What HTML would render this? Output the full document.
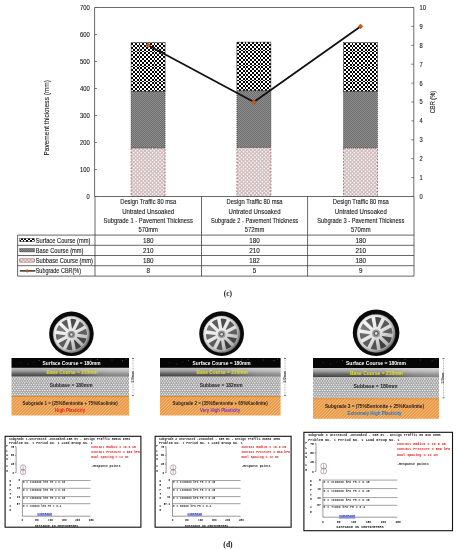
<!DOCTYPE html>
<html><head><meta charset="utf-8"><title>Pavement thickness figure</title>
<style>html,body{margin:0;padding:0;background:#fff}body{width:456px;height:550px;overflow:hidden}svg{display:block}.s{font-family:"Liberation Sans",sans-serif;fill:#222;stroke:#222;stroke-width:0.12}.m{font-family:"Liberation Mono",monospace;font-weight:bold;fill:#222}.c{font-family:"Liberation Serif",serif;font-weight:bold;fill:#111}</style></head><body>
<svg width="456" height="550" viewBox="0 0 456 550">
<defs>
<pattern id="chk" width="15" height="15" patternUnits="userSpaceOnUse"><rect width="15" height="15" fill="#000"/><path d="M2 0H4V2H2zM6 0H8V2H6zM9 0H11V2H9zM13 0H15V2H13zM0 2H2V4H0zM4 2H6V4H4zM8 2H9V4H8zM11 2H13V4H11zM2 4H4V6H2zM6 4H8V6H6zM9 4H11V6H9zM13 4H15V6H13zM0 6H2V8H0zM4 6H6V8H4zM8 6H9V8H8zM11 6H13V8H11zM2 8H4V9H2zM6 8H8V9H6zM9 8H11V9H9zM13 8H15V9H13zM0 9H2V11H0zM4 9H6V11H4zM8 9H9V11H8zM11 9H13V11H11zM2 11H4V13H2zM6 11H8V13H6zM9 11H11V13H9zM13 11H15V13H13zM0 13H2V15H0zM4 13H6V15H4zM8 13H9V15H8zM11 13H13V15H11z" fill="#fff"/></pattern>
<pattern id="bas" width="2" height="2" patternUnits="userSpaceOnUse"><rect width="2" height="2" fill="#6e6e6e"/><rect x="0" y="0" width="1" height="1" fill="#8e8e8e"/><rect x="1" y="1" width="1" height="1" fill="#8e8e8e"/></pattern>
<pattern id="sub" width="15" height="15" patternUnits="userSpaceOnUse"><rect width="15" height="15" fill="#d0bcbc"/><g fill="#fbf7f7"><circle cx="2.812" cy="0.938" r="0.84"/><circle cx="6.562" cy="0.938" r="0.84"/><circle cx="10.312" cy="0.938" r="0.84"/><circle cx="14.062" cy="0.938" r="0.84"/><circle cx="0.938" cy="2.812" r="0.84"/><circle cx="4.688" cy="2.812" r="0.84"/><circle cx="8.438" cy="2.812" r="0.84"/><circle cx="12.188" cy="2.812" r="0.84"/><circle cx="2.812" cy="4.688" r="0.84"/><circle cx="6.562" cy="4.688" r="0.84"/><circle cx="10.312" cy="4.688" r="0.84"/><circle cx="14.062" cy="4.688" r="0.84"/><circle cx="0.938" cy="6.562" r="0.84"/><circle cx="4.688" cy="6.562" r="0.84"/><circle cx="8.438" cy="6.562" r="0.84"/><circle cx="12.188" cy="6.562" r="0.84"/><circle cx="2.812" cy="8.438" r="0.84"/><circle cx="6.562" cy="8.438" r="0.84"/><circle cx="10.312" cy="8.438" r="0.84"/><circle cx="14.062" cy="8.438" r="0.84"/><circle cx="0.938" cy="10.312" r="0.84"/><circle cx="4.688" cy="10.312" r="0.84"/><circle cx="8.438" cy="10.312" r="0.84"/><circle cx="12.188" cy="10.312" r="0.84"/><circle cx="2.812" cy="12.188" r="0.84"/><circle cx="6.562" cy="12.188" r="0.84"/><circle cx="10.312" cy="12.188" r="0.84"/><circle cx="14.062" cy="12.188" r="0.84"/><circle cx="0.938" cy="14.062" r="0.84"/><circle cx="4.688" cy="14.062" r="0.84"/><circle cx="8.438" cy="14.062" r="0.84"/><circle cx="12.188" cy="14.062" r="0.84"/></g></pattern>
<linearGradient id="gbase" x1="0" y1="0" x2="0" y2="1"><stop offset="0" stop-color="#c2c2c2"/><stop offset="0.35" stop-color="#9a9a9a"/><stop offset="0.7" stop-color="#5c5c5c"/><stop offset="1" stop-color="#3e3e3e"/></linearGradient>
<linearGradient id="gbase2" x1="0" y1="0" x2="1" y2="0"><stop offset="0" stop-color="#fff" stop-opacity="0"/><stop offset="0.55" stop-color="#fff" stop-opacity="0.05"/><stop offset="0.8" stop-color="#fff" stop-opacity="0.3"/><stop offset="1" stop-color="#fff" stop-opacity="0.35"/></linearGradient>
<pattern id="dots" width="5" height="19" patternUnits="userSpaceOnUse"><rect width="5" height="19" fill="#a2a2a2"/><g fill="#f4f4f4"><circle cx="1.250" cy="0.950" r="0.7"/><circle cx="3.750" cy="0.950" r="0.7"/><circle cx="2.500" cy="2.850" r="0.7"/><circle cx="5.000" cy="2.850" r="0.7"/><circle cx="1.250" cy="4.750" r="0.7"/><circle cx="3.750" cy="4.750" r="0.7"/><circle cx="2.500" cy="6.650" r="0.7"/><circle cx="5.000" cy="6.650" r="0.7"/><circle cx="1.250" cy="8.550" r="0.7"/><circle cx="3.750" cy="8.550" r="0.7"/><circle cx="2.500" cy="10.450" r="0.7"/><circle cx="5.000" cy="10.450" r="0.7"/><circle cx="1.250" cy="12.350" r="0.7"/><circle cx="3.750" cy="12.350" r="0.7"/><circle cx="2.500" cy="14.250" r="0.7"/><circle cx="5.000" cy="14.250" r="0.7"/><circle cx="1.250" cy="16.150" r="0.7"/><circle cx="3.750" cy="16.150" r="0.7"/><circle cx="2.500" cy="18.050" r="0.7"/><circle cx="5.000" cy="18.050" r="0.7"/><circle cx="0" cy="2.850" r="0.7"/><circle cx="5" cy="2.850" r="0.7"/><circle cx="0" cy="6.650" r="0.7"/><circle cx="5" cy="6.650" r="0.7"/><circle cx="0" cy="10.450" r="0.7"/><circle cx="5" cy="10.450" r="0.7"/><circle cx="0" cy="14.250" r="0.7"/><circle cx="5" cy="14.250" r="0.7"/><circle cx="0" cy="18.050" r="0.7"/><circle cx="5" cy="18.050" r="0.7"/></g></pattern>
<pattern id="hat" width="2.2" height="2.2" patternUnits="userSpaceOnUse" patternTransform="rotate(-45)"><rect width="2.2" height="2.2" fill="#e8923a"/><rect width="2.2" height="0.95" fill="#f3bf84"/></pattern>
<linearGradient id="spk" x1="0.15" y1="0.1" x2="0.85" y2="0.9"><stop offset="0" stop-color="#fafafa"/><stop offset="0.55" stop-color="#e2e2e2"/><stop offset="1" stop-color="#a8a8a8"/></linearGradient>
<linearGradient id="rim" x1="0.1" y1="0.1" x2="0.9" y2="0.9"><stop offset="0" stop-color="#f0f0f0"/><stop offset="0.5" stop-color="#c8c8c8"/><stop offset="1" stop-color="#6e6e6e"/></linearGradient>
</defs>
<rect width="456" height="550" fill="#fff"/>
<g transform="translate(131 43)">
<rect x="0.1" y="104.9" width="34" height="48.6" fill="url(#sub)" stroke="#7a2626" stroke-width="0.6" stroke-dasharray="1.6 1.6"/>
<rect x="0.1" y="48.2" width="34" height="56.7" fill="url(#bas)" stroke="#2a2a2a" stroke-width="0.7" stroke-dasharray="1 1"/>
<rect x="0.1" y="-0.4" width="34" height="48.6" fill="url(#chk)" stroke="#222" stroke-width="0.5"/>
</g>
<g transform="translate(237 42)">
<rect x="-0.1" y="105.4" width="34" height="49.1" fill="url(#sub)" stroke="#7a2626" stroke-width="0.6" stroke-dasharray="1.6 1.6"/>
<rect x="-0.1" y="48.7" width="34" height="56.7" fill="url(#bas)" stroke="#2a2a2a" stroke-width="0.7" stroke-dasharray="1 1"/>
<rect x="-0.1" y="0.1" width="34" height="48.6" fill="url(#chk)" stroke="#222" stroke-width="0.5"/>
</g>
<g transform="translate(344 43)">
<rect x="-0.5" y="104.9" width="34" height="48.6" fill="url(#sub)" stroke="#7a2626" stroke-width="0.6" stroke-dasharray="1.6 1.6"/>
<rect x="-0.5" y="48.2" width="34" height="56.7" fill="url(#bas)" stroke="#2a2a2a" stroke-width="0.7" stroke-dasharray="1 1"/>
<rect x="-0.5" y="-0.4" width="34" height="48.6" fill="url(#chk)" stroke="#222" stroke-width="0.5"/>
</g>
<path d="M94.6 7.5H413.8V196.5H94.6Z" fill="none" stroke="#595959" stroke-width="0.9"/>
<path d="M94.6 196.5h2.4" stroke="#595959" stroke-width="0.8"/>
<text x="89.8" y="198.9" class="s" font-size="6.6" text-anchor="end" textLength="3.2" lengthAdjust="spacingAndGlyphs">0</text>
<path d="M94.6 169.5h2.4" stroke="#595959" stroke-width="0.8"/>
<text x="89.8" y="171.9" class="s" font-size="6.6" text-anchor="end" textLength="9.8" lengthAdjust="spacingAndGlyphs">100</text>
<path d="M94.6 142.5h2.4" stroke="#595959" stroke-width="0.8"/>
<text x="89.8" y="144.9" class="s" font-size="6.6" text-anchor="end" textLength="9.8" lengthAdjust="spacingAndGlyphs">200</text>
<path d="M94.6 115.5h2.4" stroke="#595959" stroke-width="0.8"/>
<text x="89.8" y="117.9" class="s" font-size="6.6" text-anchor="end" textLength="9.8" lengthAdjust="spacingAndGlyphs">300</text>
<path d="M94.6 88.5h2.4" stroke="#595959" stroke-width="0.8"/>
<text x="89.8" y="90.9" class="s" font-size="6.6" text-anchor="end" textLength="9.8" lengthAdjust="spacingAndGlyphs">400</text>
<path d="M94.6 61.5h2.4" stroke="#595959" stroke-width="0.8"/>
<text x="89.8" y="63.9" class="s" font-size="6.6" text-anchor="end" textLength="9.8" lengthAdjust="spacingAndGlyphs">500</text>
<path d="M94.6 34.5h2.4" stroke="#595959" stroke-width="0.8"/>
<text x="89.8" y="36.9" class="s" font-size="6.6" text-anchor="end" textLength="9.8" lengthAdjust="spacingAndGlyphs">600</text>
<path d="M94.6 7.5h2.4" stroke="#595959" stroke-width="0.8"/>
<text x="89.8" y="9.9" class="s" font-size="6.6" text-anchor="end" textLength="9.8" lengthAdjust="spacingAndGlyphs">700</text>
<path d="M413.8 196.5h-2.4" stroke="#595959" stroke-width="0.8"/>
<text x="419.4" y="198.9" class="s" font-size="6.6" text-anchor="start" textLength="3.2" lengthAdjust="spacingAndGlyphs">0</text>
<path d="M413.8 177.6h-2.4" stroke="#595959" stroke-width="0.8"/>
<text x="419.4" y="180.0" class="s" font-size="6.6" text-anchor="start" textLength="3.2" lengthAdjust="spacingAndGlyphs">1</text>
<path d="M413.8 158.7h-2.4" stroke="#595959" stroke-width="0.8"/>
<text x="419.4" y="161.1" class="s" font-size="6.6" text-anchor="start" textLength="3.2" lengthAdjust="spacingAndGlyphs">2</text>
<path d="M413.8 139.8h-2.4" stroke="#595959" stroke-width="0.8"/>
<text x="419.4" y="142.2" class="s" font-size="6.6" text-anchor="start" textLength="3.2" lengthAdjust="spacingAndGlyphs">3</text>
<path d="M413.8 120.9h-2.4" stroke="#595959" stroke-width="0.8"/>
<text x="419.4" y="123.3" class="s" font-size="6.6" text-anchor="start" textLength="3.2" lengthAdjust="spacingAndGlyphs">4</text>
<path d="M413.8 102.0h-2.4" stroke="#595959" stroke-width="0.8"/>
<text x="419.4" y="104.4" class="s" font-size="6.6" text-anchor="start" textLength="3.2" lengthAdjust="spacingAndGlyphs">5</text>
<path d="M413.8 83.1h-2.4" stroke="#595959" stroke-width="0.8"/>
<text x="419.4" y="85.5" class="s" font-size="6.6" text-anchor="start" textLength="3.2" lengthAdjust="spacingAndGlyphs">6</text>
<path d="M413.8 64.2h-2.4" stroke="#595959" stroke-width="0.8"/>
<text x="419.4" y="66.6" class="s" font-size="6.6" text-anchor="start" textLength="3.2" lengthAdjust="spacingAndGlyphs">7</text>
<path d="M413.8 45.3h-2.4" stroke="#595959" stroke-width="0.8"/>
<text x="419.4" y="47.7" class="s" font-size="6.6" text-anchor="start" textLength="3.2" lengthAdjust="spacingAndGlyphs">8</text>
<path d="M413.8 26.4h-2.4" stroke="#595959" stroke-width="0.8"/>
<text x="419.4" y="28.8" class="s" font-size="6.6" text-anchor="start" textLength="3.2" lengthAdjust="spacingAndGlyphs">9</text>
<path d="M413.8 7.5h-2.4" stroke="#595959" stroke-width="0.8"/>
<text x="419.4" y="9.9" class="s" font-size="6.6" text-anchor="start" textLength="6.5" lengthAdjust="spacingAndGlyphs">10</text>
<text class="s" font-size="7" text-anchor="middle" textLength="75.5" lengthAdjust="spacingAndGlyphs" transform="translate(49.1 117.8) rotate(-90)">Pavement thickness (mm)</text>
<text class="s" font-size="7" text-anchor="middle" textLength="22.5" lengthAdjust="spacingAndGlyphs" transform="translate(435.1 102) rotate(-90)">CBR (%)</text>
<polyline fill="none" stroke="#111" stroke-width="1.8" points="148.1,45.3 253.9,102.0 360.5,26.4"/>
<path d="M148.1 42.8l2.5 2.5l-2.5 2.5l-2.5-2.5z" fill="#c55a11" stroke="#a04000" stroke-width="0.3"/>
<path d="M253.9 99.5l2.5 2.5l-2.5 2.5l-2.5-2.5z" fill="#c55a11" stroke="#a04000" stroke-width="0.3"/>
<path d="M360.5 23.9l2.5 2.5l-2.5 2.5l-2.5-2.5z" fill="#c55a11" stroke="#a04000" stroke-width="0.3"/>
<path d="M95 196.5V276.1" stroke="#404040" stroke-width="0.8"/>
<path d="M201.5 196.5V276.1" stroke="#404040" stroke-width="0.8"/>
<path d="M307.6 196.5V276.1" stroke="#404040" stroke-width="0.8"/>
<path d="M414 196.5V276.1" stroke="#404040" stroke-width="0.8"/>
<path d="M17.6 235.1V276.1" stroke="#404040" stroke-width="0.8"/>
<path d="M17.6 235.1H414" stroke="#404040" stroke-width="0.8"/>
<path d="M17.6 245.3H414" stroke="#404040" stroke-width="0.8"/>
<path d="M17.6 255.5H414" stroke="#404040" stroke-width="0.8"/>
<path d="M17.6 265.7H414" stroke="#404040" stroke-width="0.8"/>
<path d="M17.6 276.1H414" stroke="#404040" stroke-width="0.8"/>
<text x="148.2" y="204.4" class="s" font-size="7" text-anchor="middle" textLength="56.0" lengthAdjust="spacingAndGlyphs">Design Traffic 80 msa</text>
<text x="148.2" y="213.9" class="s" font-size="7" text-anchor="middle" textLength="52.0" lengthAdjust="spacingAndGlyphs">Untrated Unsoaked</text>
<text x="148.2" y="223.4" class="s" font-size="7" text-anchor="middle" textLength="89.4" lengthAdjust="spacingAndGlyphs">Subgrade  1 - Pavement Thickness</text>
<text x="148.2" y="231.8" class="s" font-size="7" text-anchor="middle" textLength="19.5" lengthAdjust="spacingAndGlyphs">570mm</text>
<text x="254.6" y="204.4" class="s" font-size="7" text-anchor="middle" textLength="56.0" lengthAdjust="spacingAndGlyphs">Design Traffic 80 msa</text>
<text x="254.6" y="213.9" class="s" font-size="7" text-anchor="middle" textLength="52.0" lengthAdjust="spacingAndGlyphs">Untrated Unsoaked</text>
<text x="254.6" y="223.4" class="s" font-size="7" text-anchor="middle" textLength="87.0" lengthAdjust="spacingAndGlyphs">Subgrade 2 - Pavement Thickness</text>
<text x="254.6" y="231.8" class="s" font-size="7" text-anchor="middle" textLength="19.5" lengthAdjust="spacingAndGlyphs">572mm</text>
<text x="360.8" y="204.4" class="s" font-size="7" text-anchor="middle" textLength="56.0" lengthAdjust="spacingAndGlyphs">Design Traffic 80 msa</text>
<text x="360.8" y="213.9" class="s" font-size="7" text-anchor="middle" textLength="52.0" lengthAdjust="spacingAndGlyphs">Untrated Unsoaked</text>
<text x="360.8" y="223.4" class="s" font-size="7" text-anchor="middle" textLength="87.0" lengthAdjust="spacingAndGlyphs">Subgrade 3 - Pavement Thickness</text>
<text x="360.8" y="231.8" class="s" font-size="7" text-anchor="middle" textLength="19.5" lengthAdjust="spacingAndGlyphs">570mm</text>
<text x="148.2" y="242.6" class="s" font-size="6.8" text-anchor="middle" textLength="10.5" lengthAdjust="spacingAndGlyphs">180</text>
<text x="254.6" y="242.6" class="s" font-size="6.8" text-anchor="middle" textLength="10.5" lengthAdjust="spacingAndGlyphs">180</text>
<text x="360.8" y="242.6" class="s" font-size="6.8" text-anchor="middle" textLength="10.5" lengthAdjust="spacingAndGlyphs">180</text>
<text x="148.2" y="252.8" class="s" font-size="6.8" text-anchor="middle" textLength="10.5" lengthAdjust="spacingAndGlyphs">210</text>
<text x="254.6" y="252.8" class="s" font-size="6.8" text-anchor="middle" textLength="10.5" lengthAdjust="spacingAndGlyphs">210</text>
<text x="360.8" y="252.8" class="s" font-size="6.8" text-anchor="middle" textLength="10.5" lengthAdjust="spacingAndGlyphs">210</text>
<text x="148.2" y="263.0" class="s" font-size="6.8" text-anchor="middle" textLength="10.5" lengthAdjust="spacingAndGlyphs">180</text>
<text x="254.6" y="263.0" class="s" font-size="6.8" text-anchor="middle" textLength="10.5" lengthAdjust="spacingAndGlyphs">182</text>
<text x="360.8" y="263.0" class="s" font-size="6.8" text-anchor="middle" textLength="10.5" lengthAdjust="spacingAndGlyphs">180</text>
<text x="148.2" y="273.3" class="s" font-size="6.8" text-anchor="middle" textLength="3.5" lengthAdjust="spacingAndGlyphs">8</text>
<text x="254.6" y="273.3" class="s" font-size="6.8" text-anchor="middle" textLength="3.5" lengthAdjust="spacingAndGlyphs">5</text>
<text x="360.8" y="273.3" class="s" font-size="6.8" text-anchor="middle" textLength="3.5" lengthAdjust="spacingAndGlyphs">9</text>
<rect x="19.8" y="238.5" width="14.6" height="3.2" fill="url(#chk)" stroke="#222" stroke-width="0.5"/>
<text x="35.7" y="242.6" class="s" font-size="7" text-anchor="start" textLength="54.7" lengthAdjust="spacingAndGlyphs">Surface Course (mm)</text>
<rect x="19.8" y="248.7" width="14.6" height="3.2" fill="url(#bas)" stroke="#333" stroke-width="0.5"/>
<text x="35.7" y="252.8" class="s" font-size="7" text-anchor="start" textLength="47.7" lengthAdjust="spacingAndGlyphs">Base Course (mm)</text>
<rect x="19.8" y="258.9" width="14.6" height="3.2" fill="url(#sub)" stroke="#8c2f2f" stroke-width="0.5"/>
<text x="35.7" y="263.0" class="s" font-size="7" text-anchor="start" textLength="57.2" lengthAdjust="spacingAndGlyphs">Subbase Course (mm)</text>
<path d="M19.8 270.9H35.4" stroke="#111" stroke-width="1.3"/>
<path d="M27.2 269.0l1.9 1.9l-1.9 1.9l-1.9-1.9z" fill="#c55a11"/>
<text x="35.7" y="273.3" class="s" font-size="7" text-anchor="start" textLength="45.3" lengthAdjust="spacingAndGlyphs">Subgrade CBR(%)</text>
<text x="227.9" y="296.4" class="c" font-size="7.4" text-anchor="middle">(c)</text>
<text x="228.0" y="547.3" class="c" font-size="7.6" text-anchor="middle">(d)</text>
<circle cx="71.4" cy="333.8" r="22.3" fill="#0b0a0a"/>
<circle cx="71.4" cy="334.5" r="18.77" fill="#3a3634"/>
<circle cx="71.4" cy="334.5" r="18.17" fill="url(#rim)"/>
<circle cx="71.4" cy="334.5" r="16.36" fill="url(#spk)"/>
<path d="M71.94 328.34L70.45 318.90A15.63 15.63 0 0 1 76.62 319.77L72.58 328.43Z" fill="#4c4c4c"/>
<path d="M75.45 329.84L79.80 321.32A15.63 15.63 0 0 1 84.28 325.65L75.92 330.29Z" fill="#5a5a5a"/>
<path d="M77.42 333.11L85.94 328.77A15.63 15.63 0 0 1 87.02 334.91L77.53 333.75Z" fill="#606060"/>
<path d="M77.09 336.91L86.53 338.41A15.63 15.63 0 0 1 83.80 344.01L76.80 337.50Z" fill="#484848"/>
<path d="M74.58 339.80L81.34 346.56A15.63 15.63 0 0 1 75.84 349.49L74.01 340.10Z" fill="#3e3e3e"/>
<path d="M70.86 340.66L72.35 350.10A15.63 15.63 0 0 1 66.18 349.23L70.22 340.57Z" fill="#505050"/>
<path d="M67.35 339.16L63.00 347.68A15.63 15.63 0 0 1 58.52 343.35L66.88 338.71Z" fill="#5c5c5c"/>
<path d="M65.38 335.89L56.86 340.23A15.63 15.63 0 0 1 55.78 334.09L65.27 335.25Z" fill="#6a6a6a"/>
<path d="M65.71 332.09L56.27 330.59A15.63 15.63 0 0 1 59.00 324.99L66.00 331.50Z" fill="#767676"/>
<path d="M68.22 329.20L61.46 322.44A15.63 15.63 0 0 1 66.96 319.51L68.79 328.90Z" fill="#5c5c5c"/>
<circle cx="71.4" cy="334.5" r="3.82" fill="#9a9a9a"/>
<circle cx="71.4" cy="334.5" r="2.36" fill="#555"/>
<circle cx="71.4" cy="334.5" r="1.27" fill="#e0e0e0"/>
<rect x="11.5" y="358" width="117.5" height="9.9" fill="#060606"/>
<rect x="11.5" y="367.9" width="117.5" height="8.8" fill="url(#gbase)"/>
<rect x="11.5" y="367.9" width="117.5" height="8.8" fill="url(#gbase2)"/>
<rect x="11.5" y="376.7" width="117.5" height="19.3" fill="url(#dots)"/>
<rect x="11.5" y="396" width="117.5" height="19.5" fill="url(#hat)"/>
<rect x="11.5" y="396" width="117.5" height="0.9" fill="#d8801e" opacity="0.8"/>
<circle cx="39.1" cy="360.5" r="0.45" fill="#ddd" opacity="0.75"/>
<circle cx="90.8" cy="360.0" r="0.4" fill="#ddd" opacity="0.75"/>
<circle cx="97.3" cy="359.4" r="0.45" fill="#ddd" opacity="0.75"/>
<circle cx="112.0" cy="360.0" r="0.4" fill="#ddd" opacity="0.75"/>
<circle cx="122.5" cy="360.8" r="0.45" fill="#ddd" opacity="0.75"/>
<circle cx="126.1" cy="359.0" r="0.4" fill="#ddd" opacity="0.75"/>
<circle cx="20.9" cy="362.5" r="0.3" fill="#ddd" opacity="0.75"/>
<circle cx="28.0" cy="363.9" r="0.3" fill="#ddd" opacity="0.75"/>
<circle cx="33.8" cy="362.0" r="0.3" fill="#ddd" opacity="0.75"/>
<text x="71.6" y="364.8" font-family="Liberation Sans,sans-serif" font-weight="bold" font-size="5.6" fill="#fff" text-anchor="middle" textLength="58" lengthAdjust="spacingAndGlyphs">Surface Course = 180mm</text>
<text x="72.1" y="374.2" font-family="Liberation Sans,sans-serif" font-weight="bold" font-size="5.6" fill="#e8e020" text-anchor="middle" textLength="51.2" lengthAdjust="spacingAndGlyphs">Base Course = 210mm</text>
<text x="71.1" y="386.7" font-family="Liberation Sans,sans-serif" font-weight="bold" font-size="5.4" fill="#222" text-anchor="middle" textLength="42.8" lengthAdjust="spacingAndGlyphs">Subbase = 180mm</text>
<text x="70.1" y="405.2" font-family="Liberation Sans,sans-serif" font-weight="bold" font-size="5" fill="#2a2018" text-anchor="middle" textLength="95.2" lengthAdjust="spacingAndGlyphs">Subgrade 1 = (25%Bentonite + 75%Kaolinite)</text>
<text x="70.1" y="411.8" font-family="Liberation Sans,sans-serif" font-weight="bold" font-size="4.8" fill="#e8201a" text-anchor="middle" textLength="30" lengthAdjust="spacingAndGlyphs">High Plasticity</text>
<path d="M133 358.5V395.5" stroke="#555" stroke-width="0.5" stroke-dasharray="0.8 0.8"/>
<path d="M132 358.5h2M132 395.5h2" stroke="#333" stroke-width="0.6"/>
<text font-family="Liberation Sans,sans-serif" font-weight="bold" font-size="3.2" fill="#333" text-anchor="middle" transform="translate(133.9 377.0) rotate(-90)">570mm</text>
<circle cx="221.6" cy="333.6" r="22.4" fill="#0b0a0a"/>
<circle cx="221.6" cy="334.3" r="18.86" fill="#3a3634"/>
<circle cx="221.6" cy="334.3" r="18.26" fill="url(#rim)"/>
<circle cx="221.6" cy="334.3" r="16.43" fill="url(#spk)"/>
<path d="M222.14 328.12L220.64 318.63A15.70 15.70 0 0 1 226.84 319.50L222.78 328.21Z" fill="#4c4c4c"/>
<path d="M225.67 329.62L230.04 321.06A15.70 15.70 0 0 1 234.54 325.41L226.14 330.07Z" fill="#5a5a5a"/>
<path d="M227.65 332.90L236.21 328.55A15.70 15.70 0 0 1 237.29 334.71L227.76 333.54Z" fill="#606060"/>
<path d="M227.31 336.73L236.80 338.23A15.70 15.70 0 0 1 234.06 343.86L227.03 337.31Z" fill="#484848"/>
<path d="M224.80 339.62L231.59 346.41A15.70 15.70 0 0 1 226.06 349.35L224.22 339.93Z" fill="#3e3e3e"/>
<path d="M221.06 340.48L222.56 349.97A15.70 15.70 0 0 1 216.36 349.10L220.42 340.39Z" fill="#505050"/>
<path d="M217.53 338.98L213.16 347.54A15.70 15.70 0 0 1 208.66 343.19L217.06 338.53Z" fill="#5c5c5c"/>
<path d="M215.55 335.70L206.99 340.05A15.70 15.70 0 0 1 205.91 333.89L215.44 335.06Z" fill="#6a6a6a"/>
<path d="M215.89 331.87L206.40 330.37A15.70 15.70 0 0 1 209.14 324.74L216.17 331.29Z" fill="#767676"/>
<path d="M218.40 328.98L211.61 322.19A15.70 15.70 0 0 1 217.14 319.25L218.98 328.67Z" fill="#5c5c5c"/>
<circle cx="221.6" cy="334.3" r="3.83" fill="#9a9a9a"/>
<circle cx="221.6" cy="334.3" r="2.37" fill="#555"/>
<circle cx="221.6" cy="334.3" r="1.28" fill="#e0e0e0"/>
<rect x="160" y="358" width="120.6" height="9.9" fill="#060606"/>
<rect x="160" y="367.9" width="120.6" height="8.8" fill="url(#gbase)"/>
<rect x="160" y="367.9" width="120.6" height="8.8" fill="url(#gbase2)"/>
<rect x="160" y="376.7" width="120.6" height="19.3" fill="url(#dots)"/>
<rect x="160" y="396" width="120.6" height="19.5" fill="url(#hat)"/>
<rect x="160" y="396" width="120.6" height="0.9" fill="#d8801e" opacity="0.8"/>
<circle cx="188.3" cy="360.5" r="0.45" fill="#ddd" opacity="0.75"/>
<circle cx="241.4" cy="360.0" r="0.4" fill="#ddd" opacity="0.75"/>
<circle cx="248.0" cy="359.4" r="0.45" fill="#ddd" opacity="0.75"/>
<circle cx="263.1" cy="360.0" r="0.4" fill="#ddd" opacity="0.75"/>
<circle cx="274.0" cy="360.8" r="0.45" fill="#ddd" opacity="0.75"/>
<circle cx="277.6" cy="359.0" r="0.4" fill="#ddd" opacity="0.75"/>
<circle cx="169.6" cy="362.5" r="0.3" fill="#ddd" opacity="0.75"/>
<circle cx="176.9" cy="363.9" r="0.3" fill="#ddd" opacity="0.75"/>
<circle cx="182.9" cy="362.0" r="0.3" fill="#ddd" opacity="0.75"/>
<text x="221.6" y="364.8" font-family="Liberation Sans,sans-serif" font-weight="bold" font-size="5.6" fill="#fff" text-anchor="middle" textLength="58" lengthAdjust="spacingAndGlyphs">Surface Course = 180mm</text>
<text x="222.1" y="374.2" font-family="Liberation Sans,sans-serif" font-weight="bold" font-size="5.6" fill="#e8e020" text-anchor="middle" textLength="51.2" lengthAdjust="spacingAndGlyphs">Base Course = 210mm</text>
<text x="221.1" y="386.7" font-family="Liberation Sans,sans-serif" font-weight="bold" font-size="5.4" fill="#222" text-anchor="middle" textLength="42.8" lengthAdjust="spacingAndGlyphs">Subbase = 182mm</text>
<text x="220.1" y="405.2" font-family="Liberation Sans,sans-serif" font-weight="bold" font-size="5" fill="#2a2018" text-anchor="middle" textLength="95.2" lengthAdjust="spacingAndGlyphs">Subgrade 2 = (35%Bentonite + 65%Kaolinite)</text>
<text x="220.1" y="411.8" font-family="Liberation Sans,sans-serif" font-weight="bold" font-size="4.8" fill="#7a30c0" text-anchor="middle" textLength="40" lengthAdjust="spacingAndGlyphs">Very High Plasticity</text>
<path d="M285 358.5V395.5" stroke="#555" stroke-width="0.5" stroke-dasharray="0.8 0.8"/>
<path d="M284 358.5h2M284 395.5h2" stroke="#333" stroke-width="0.6"/>
<text font-family="Liberation Sans,sans-serif" font-weight="bold" font-size="3.2" fill="#333" text-anchor="middle" transform="translate(285.9 377.0) rotate(-90)">572mm</text>
<circle cx="376.1" cy="332.7" r="23.3" fill="#0b0a0a"/>
<circle cx="376.1" cy="333.4" r="19.59" fill="#3a3634"/>
<circle cx="376.1" cy="333.4" r="18.99" fill="url(#rim)"/>
<circle cx="376.1" cy="333.4" r="17.09" fill="url(#spk)"/>
<path d="M376.66 326.97L375.10 317.10A16.33 16.33 0 0 1 381.55 318.01L377.33 327.06Z" fill="#4c4c4c"/>
<path d="M380.34 328.53L384.87 319.63A16.33 16.33 0 0 1 389.56 324.15L380.82 329.00Z" fill="#5a5a5a"/>
<path d="M382.39 331.95L391.29 327.41A16.33 16.33 0 0 1 392.43 333.83L382.51 332.61Z" fill="#606060"/>
<path d="M382.04 335.92L391.91 337.49A16.33 16.33 0 0 1 389.06 343.34L381.75 336.53Z" fill="#484848"/>
<path d="M379.43 338.93L386.49 346.00A16.33 16.33 0 0 1 380.74 349.06L378.83 339.25Z" fill="#3e3e3e"/>
<path d="M375.54 339.83L377.10 349.70A16.33 16.33 0 0 1 370.65 348.79L374.87 339.74Z" fill="#505050"/>
<path d="M371.86 338.27L367.33 347.17A16.33 16.33 0 0 1 362.64 342.65L371.38 337.80Z" fill="#5c5c5c"/>
<path d="M369.81 334.85L360.91 339.39A16.33 16.33 0 0 1 359.77 332.97L369.69 334.19Z" fill="#6a6a6a"/>
<path d="M370.16 330.88L360.29 329.31A16.33 16.33 0 0 1 363.14 323.46L370.45 330.27Z" fill="#767676"/>
<path d="M372.77 327.87L365.71 320.80A16.33 16.33 0 0 1 371.46 317.74L373.37 327.55Z" fill="#5c5c5c"/>
<circle cx="376.1" cy="333.4" r="3.99" fill="#9a9a9a"/>
<circle cx="376.1" cy="333.4" r="2.47" fill="#555"/>
<circle cx="376.1" cy="333.4" r="1.33" fill="#e0e0e0"/>
<rect x="313" y="358" width="126.0" height="10.2" fill="#060606"/>
<rect x="313" y="368.2" width="126.0" height="9.2" fill="url(#gbase)"/>
<rect x="313" y="368.2" width="126.0" height="9.2" fill="url(#gbase2)"/>
<rect x="313" y="377.4" width="126.0" height="20.9" fill="url(#dots)"/>
<rect x="313" y="398.3" width="126.0" height="20.5" fill="url(#hat)"/>
<rect x="313" y="398.3" width="126.0" height="0.9" fill="#d8801e" opacity="0.8"/>
<circle cx="342.6" cy="360.6" r="0.45" fill="#ddd" opacity="0.75"/>
<circle cx="398.1" cy="360.0" r="0.4" fill="#ddd" opacity="0.75"/>
<circle cx="405.0" cy="359.4" r="0.45" fill="#ddd" opacity="0.75"/>
<circle cx="420.7" cy="360.0" r="0.4" fill="#ddd" opacity="0.75"/>
<circle cx="432.1" cy="360.9" r="0.45" fill="#ddd" opacity="0.75"/>
<circle cx="435.9" cy="359.0" r="0.4" fill="#ddd" opacity="0.75"/>
<circle cx="323.1" cy="362.6" r="0.3" fill="#ddd" opacity="0.75"/>
<circle cx="330.6" cy="364.1" r="0.3" fill="#ddd" opacity="0.75"/>
<circle cx="336.9" cy="362.1" r="0.3" fill="#ddd" opacity="0.75"/>
<text x="376" y="365.0" font-family="Liberation Sans,sans-serif" font-weight="bold" font-size="5.6" fill="#fff" text-anchor="middle" textLength="60" lengthAdjust="spacingAndGlyphs">Surface Course = 180mm</text>
<text x="376.5" y="374.7" font-family="Liberation Sans,sans-serif" font-weight="bold" font-size="5.6" fill="#e8e020" text-anchor="middle" textLength="53" lengthAdjust="spacingAndGlyphs">Base Course = 210mm</text>
<text x="375.5" y="388.1" font-family="Liberation Sans,sans-serif" font-weight="bold" font-size="5.4" fill="#222" text-anchor="middle" textLength="44" lengthAdjust="spacingAndGlyphs">Subbase = 180mm</text>
<text x="374.5" y="407.9" font-family="Liberation Sans,sans-serif" font-weight="bold" font-size="5" fill="#2a2018" text-anchor="middle" textLength="99" lengthAdjust="spacingAndGlyphs">Subgrade 3 = (75%Bentonite + 25%Kaolinite)</text>
<text x="374.5" y="414.9" font-family="Liberation Sans,sans-serif" font-weight="bold" font-size="4.8" fill="#1e78c8" text-anchor="middle" textLength="54" lengthAdjust="spacingAndGlyphs">Extremely High Plasticity</text>
<path d="M443.5 358.5V397.8" stroke="#555" stroke-width="0.5" stroke-dasharray="0.8 0.8"/>
<path d="M442.5 358.5h2M442.5 397.8h2" stroke="#333" stroke-width="0.6"/>
<text font-family="Liberation Sans,sans-serif" font-weight="bold" font-size="3.2" fill="#333" text-anchor="middle" transform="translate(444.4 378.1) rotate(-90)">570mm</text>
<rect x="5.1" y="436.3" width="135.8" height="90.9" fill="#fff" stroke="#111" stroke-width="1.1"/>
<text x="9.0" y="439.8" class="m" font-size="2.71" style="fill:#222" text-anchor="start" textLength="121.3" lengthAdjust="spacingAndGlyphs">Subgrade 1-Untreated -Unsoaked-CBR 8% - Design Traffic 80msa IMHS</text>
<text x="9.0" y="444.1" class="m" font-size="2.71" style="fill:#222" text-anchor="start" textLength="83.7" lengthAdjust="spacingAndGlyphs">Problem No. 1  Period No. 1  Load Group No. 1</text>
<text x="91.3" y="448.2" class="m" font-size="2.71" style="fill:#e02020" text-anchor="start" textLength="44.6" lengthAdjust="spacingAndGlyphs">Contact Radius = 10.6 cm</text>
<text x="91.3" y="453.0" class="m" font-size="2.71" style="fill:#e02020" text-anchor="start" textLength="48.5" lengthAdjust="spacingAndGlyphs">Contact Pressure = 560 kPa</text>
<text x="91.3" y="457.7" class="m" font-size="2.71" style="fill:#e02020" text-anchor="start" textLength="37.1" lengthAdjust="spacingAndGlyphs">Dual Spacing = 13 cm</text>
<text x="91.3" y="466.9" class="m" font-size="2.71" style="fill:#222" text-anchor="start" textLength="29.3" lengthAdjust="spacingAndGlyphs">-Response points</text>
<path d="M16.1 446.7V472.6" stroke="#333" stroke-width="0.5" fill="none"/>
<path d="M14.9 446.7H16.1" stroke="#333" stroke-width="0.5"/>
<text x="14.2" y="447.6" class="m" font-size="2.71" style="fill:#222" text-anchor="end">75</text>
<path d="M14.9 455.3H16.1" stroke="#333" stroke-width="0.5"/>
<text x="14.2" y="456.2" class="m" font-size="2.71" style="fill:#222" text-anchor="end">50</text>
<path d="M14.9 464.0H16.1" stroke="#333" stroke-width="0.5"/>
<text x="14.2" y="464.9" class="m" font-size="2.71" style="fill:#222" text-anchor="end">25</text>
<path d="M14.9 472.6H16.1" stroke="#333" stroke-width="0.5"/>
<text x="14.2" y="473.5" class="m" font-size="2.71" style="fill:#222" text-anchor="end">0</text>
<text x="6.2" y="447.3" class="m" font-size="2.71" style="fill:#222" text-anchor="start">P</text>
<text x="6.2" y="451.6" class="m" font-size="2.71" style="fill:#222" text-anchor="start">L</text>
<text x="6.2" y="455.9" class="m" font-size="2.71" style="fill:#222" text-anchor="start">A</text>
<text x="6.2" y="460.3" class="m" font-size="2.71" style="fill:#222" text-anchor="start">N</text>
<text x="6.2" y="467.4" class="m" font-size="2.71" style="fill:#222" text-anchor="start">c</text>
<text x="6.2" y="471.7" class="m" font-size="2.71" style="fill:#222" text-anchor="start">m</text>
<circle cx="23.1" cy="467.5" r="2.71" fill="none" stroke="#5a4a6a" stroke-width="0.45"/>
<circle cx="23.1" cy="472.1" r="2.71" fill="none" stroke="#5a4a6a" stroke-width="0.45"/>
<path d="M23.1 465.7V473.9" stroke="#d04070" stroke-width="0.5"/>
<path d="M22.4 480.5V516.2H90.5" stroke="#333" stroke-width="0.5" fill="none"/>
<path d="M22.4 480.5H90.5" stroke="#444" stroke-width="0.5"/>
<text x="23.0" y="483.2" class="m" font-size="2.71" style="fill:#444" text-anchor="start" textLength="42.1" lengthAdjust="spacingAndGlyphs">E = 3100000 kPa  PR = 0.35</text>
<text x="20.1" y="481.4" class="m" font-size="2.71" style="fill:#222" text-anchor="end">0</text>
<path d="M22.4 488.3H90.5" stroke="#444" stroke-width="0.5"/>
<text x="23.0" y="491.0" class="m" font-size="2.71" style="fill:#444" text-anchor="start" textLength="42.1" lengthAdjust="spacingAndGlyphs">E = 1300000 kPa  PR = 0.35</text>
<text x="20.1" y="489.2" class="m" font-size="2.71" style="fill:#222" text-anchor="end">18</text>
<path d="M22.4 496.6H90.5" stroke="#444" stroke-width="0.5"/>
<text x="23.0" y="499.3" class="m" font-size="2.71" style="fill:#444" text-anchor="start" textLength="42.1" lengthAdjust="spacingAndGlyphs">E = 1800000 kPa  PR = 0.35</text>
<text x="20.1" y="497.5" class="m" font-size="2.71" style="fill:#222" text-anchor="end">39</text>
<path d="M22.4 503.7H90.5" stroke="#444" stroke-width="0.5"/>
<text x="23.0" y="506.5" class="m" font-size="2.71" style="fill:#444" text-anchor="start" textLength="38.1" lengthAdjust="spacingAndGlyphs">E = 190000 kPa  PR = 0.4</text>
<text x="20.1" y="504.6" class="m" font-size="2.71" style="fill:#222" text-anchor="end">57</text>
<text x="9.4" y="481.9" class="m" font-size="2.71" style="fill:#222" text-anchor="start">D</text>
<text x="9.4" y="486.2" class="m" font-size="2.71" style="fill:#222" text-anchor="start">E</text>
<text x="9.4" y="490.5" class="m" font-size="2.71" style="fill:#222" text-anchor="start">P</text>
<text x="9.4" y="494.8" class="m" font-size="2.71" style="fill:#222" text-anchor="start">T</text>
<text x="9.4" y="499.1" class="m" font-size="2.71" style="fill:#222" text-anchor="start">H</text>
<text x="9.4" y="506.5" class="m" font-size="2.71" style="fill:#222" text-anchor="start">c</text>
<text x="9.4" y="510.6" class="m" font-size="2.71" style="fill:#222" text-anchor="start">m</text>
<text x="37.3" y="514.6" class="m" font-size="2.71" style="fill:#2030d0" text-decoration="underline" textLength="14.7" lengthAdjust="spacingAndGlyphs">SUBGRADE</text>
<path d="M37.3 515.2h14.7" stroke="#2030d0" stroke-width="0.35"/>
<text x="22.4" y="520.6" class="m" font-size="2.71" style="fill:#222" text-anchor="middle">0</text>
<text x="36.9" y="520.6" class="m" font-size="2.71" style="fill:#222" text-anchor="middle">50</text>
<text x="50.5" y="520.6" class="m" font-size="2.71" style="fill:#222" text-anchor="middle">100</text>
<text x="64.1" y="520.6" class="m" font-size="2.71" style="fill:#222" text-anchor="middle">150</text>
<text x="77.7" y="520.6" class="m" font-size="2.71" style="fill:#222" text-anchor="middle">200</text>
<text x="91.3" y="520.6" class="m" font-size="2.71" style="fill:#222" text-anchor="middle">250</text>
<text x="35.0" y="526.5" class="m" font-size="2.71" style="fill:#222" text-anchor="start" textLength="43.1" lengthAdjust="spacingAndGlyphs">DISTANCE IN CENTIMETERS</text>
<rect x="155.1" y="436.3" width="136.0" height="90.9" fill="#fff" stroke="#111" stroke-width="1.1"/>
<text x="159.0" y="439.8" class="m" font-size="2.71" style="fill:#222" text-anchor="start" textLength="121.4" lengthAdjust="spacingAndGlyphs">Subgrade 2 Untreated -Unsoaked - CBR 5% - Design Traffic 80msa IMHS</text>
<text x="159.0" y="444.1" class="m" font-size="2.71" style="fill:#222" text-anchor="start" textLength="83.8" lengthAdjust="spacingAndGlyphs">Problem No. 1  Period No. 1  Load Group No. 1</text>
<text x="241.4" y="448.2" class="m" font-size="2.71" style="fill:#e02020" text-anchor="start" textLength="44.7" lengthAdjust="spacingAndGlyphs">Contact Radius = 10.6 cm</text>
<text x="241.4" y="453.0" class="m" font-size="2.71" style="fill:#e02020" text-anchor="start" textLength="48.6" lengthAdjust="spacingAndGlyphs">Contact Pressure = 560 kPa</text>
<text x="241.4" y="457.7" class="m" font-size="2.71" style="fill:#e02020" text-anchor="start" textLength="37.1" lengthAdjust="spacingAndGlyphs">Dual Spacing = 13 cm</text>
<text x="241.4" y="466.9" class="m" font-size="2.71" style="fill:#222" text-anchor="start" textLength="29.3" lengthAdjust="spacingAndGlyphs">-Response points</text>
<path d="M166.1 446.7V472.6" stroke="#333" stroke-width="0.5" fill="none"/>
<path d="M164.9 446.7H166.1" stroke="#333" stroke-width="0.5"/>
<text x="164.2" y="447.6" class="m" font-size="2.71" style="fill:#222" text-anchor="end">75</text>
<path d="M164.9 455.3H166.1" stroke="#333" stroke-width="0.5"/>
<text x="164.2" y="456.2" class="m" font-size="2.71" style="fill:#222" text-anchor="end">50</text>
<path d="M164.9 464.0H166.1" stroke="#333" stroke-width="0.5"/>
<text x="164.2" y="464.9" class="m" font-size="2.71" style="fill:#222" text-anchor="end">25</text>
<path d="M164.9 472.6H166.1" stroke="#333" stroke-width="0.5"/>
<text x="164.2" y="473.5" class="m" font-size="2.71" style="fill:#222" text-anchor="end">0</text>
<text x="156.2" y="447.3" class="m" font-size="2.71" style="fill:#222" text-anchor="start">P</text>
<text x="156.2" y="451.6" class="m" font-size="2.71" style="fill:#222" text-anchor="start">L</text>
<text x="156.2" y="455.9" class="m" font-size="2.71" style="fill:#222" text-anchor="start">A</text>
<text x="156.2" y="460.3" class="m" font-size="2.71" style="fill:#222" text-anchor="start">N</text>
<text x="156.2" y="467.4" class="m" font-size="2.71" style="fill:#222" text-anchor="start">c</text>
<text x="156.2" y="471.7" class="m" font-size="2.71" style="fill:#222" text-anchor="start">m</text>
<circle cx="173.2" cy="467.5" r="2.71" fill="none" stroke="#5a4a6a" stroke-width="0.45"/>
<circle cx="173.2" cy="472.1" r="2.71" fill="none" stroke="#5a4a6a" stroke-width="0.45"/>
<path d="M173.2 465.7V473.9" stroke="#d04070" stroke-width="0.5"/>
<path d="M172.5 480.5V516.2H240.6" stroke="#333" stroke-width="0.5" fill="none"/>
<path d="M172.5 480.5H240.6" stroke="#444" stroke-width="0.5"/>
<text x="173.1" y="483.2" class="m" font-size="2.71" style="fill:#444" text-anchor="start" textLength="42.2" lengthAdjust="spacingAndGlyphs">E = 3100000 kPa  PR = 0.35</text>
<text x="170.2" y="481.4" class="m" font-size="2.71" style="fill:#222" text-anchor="end">0</text>
<path d="M172.5 488.3H240.6" stroke="#444" stroke-width="0.5"/>
<text x="173.1" y="491.0" class="m" font-size="2.71" style="fill:#444" text-anchor="start" textLength="42.2" lengthAdjust="spacingAndGlyphs">E = 1300000 kPa  PR = 0.35</text>
<text x="170.2" y="489.2" class="m" font-size="2.71" style="fill:#222" text-anchor="end">18</text>
<path d="M172.5 496.6H240.6" stroke="#444" stroke-width="0.5"/>
<text x="173.1" y="499.3" class="m" font-size="2.71" style="fill:#444" text-anchor="start" textLength="42.2" lengthAdjust="spacingAndGlyphs">E = 1800000 kPa  PR = 0.35</text>
<text x="170.2" y="497.5" class="m" font-size="2.71" style="fill:#222" text-anchor="end">39</text>
<path d="M172.5 503.7H240.6" stroke="#444" stroke-width="0.5"/>
<text x="173.1" y="506.5" class="m" font-size="2.71" style="fill:#444" text-anchor="start" textLength="38.1" lengthAdjust="spacingAndGlyphs">E = 50000 kPa  PR = 0.4</text>
<text x="170.2" y="504.6" class="m" font-size="2.71" style="fill:#222" text-anchor="end">57.2</text>
<text x="159.4" y="481.9" class="m" font-size="2.71" style="fill:#222" text-anchor="start">D</text>
<text x="159.4" y="486.2" class="m" font-size="2.71" style="fill:#222" text-anchor="start">E</text>
<text x="159.4" y="490.5" class="m" font-size="2.71" style="fill:#222" text-anchor="start">P</text>
<text x="159.4" y="494.8" class="m" font-size="2.71" style="fill:#222" text-anchor="start">T</text>
<text x="159.4" y="499.1" class="m" font-size="2.71" style="fill:#222" text-anchor="start">H</text>
<text x="159.4" y="506.5" class="m" font-size="2.71" style="fill:#222" text-anchor="start">c</text>
<text x="159.4" y="510.6" class="m" font-size="2.71" style="fill:#222" text-anchor="start">m</text>
<text x="187.3" y="514.6" class="m" font-size="2.71" style="fill:#2030d0" text-decoration="underline" textLength="14.8" lengthAdjust="spacingAndGlyphs">SUBGRADE</text>
<path d="M187.3 515.2h14.8" stroke="#2030d0" stroke-width="0.35"/>
<text x="172.5" y="520.6" class="m" font-size="2.71" style="fill:#222" text-anchor="middle">0</text>
<text x="186.9" y="520.6" class="m" font-size="2.71" style="fill:#222" text-anchor="middle">50</text>
<text x="200.5" y="520.6" class="m" font-size="2.71" style="fill:#222" text-anchor="middle">100</text>
<text x="214.2" y="520.6" class="m" font-size="2.71" style="fill:#222" text-anchor="middle">150</text>
<text x="227.8" y="520.6" class="m" font-size="2.71" style="fill:#222" text-anchor="middle">200</text>
<text x="241.4" y="520.6" class="m" font-size="2.71" style="fill:#222" text-anchor="middle">250</text>
<text x="185.0" y="526.5" class="m" font-size="2.71" style="fill:#222" text-anchor="start" textLength="43.2" lengthAdjust="spacingAndGlyphs">DISTANCE IN CENTIMETERS</text>
<rect x="303.9" y="432.3" width="148.6" height="98.4" fill="#fff" stroke="#111" stroke-width="1.1"/>
<text x="308.2" y="436.1" class="m" font-size="2.96" style="fill:#222" text-anchor="start" textLength="132.6" lengthAdjust="spacingAndGlyphs">Subgrade 3 Untreated -Unsoaked - CBR 9% - Design Traffic 80 msa IMHS</text>
<text x="308.2" y="440.8" class="m" font-size="2.96" style="fill:#222" text-anchor="start" textLength="91.5" lengthAdjust="spacingAndGlyphs">Problem No. 1  Period No. 1  Load Group No. 1</text>
<text x="397.0" y="445.2" class="m" font-size="2.96" style="fill:#e02020" text-anchor="start" textLength="48.8" lengthAdjust="spacingAndGlyphs">Contact Radius = 10.6 cm</text>
<text x="397.0" y="450.4" class="m" font-size="2.96" style="fill:#e02020" text-anchor="start" textLength="53.0" lengthAdjust="spacingAndGlyphs">Contact Pressure = 560 kPa</text>
<text x="397.0" y="455.5" class="m" font-size="2.96" style="fill:#e02020" text-anchor="start" textLength="40.6" lengthAdjust="spacingAndGlyphs">Dual Spacing = 13 cm</text>
<text x="397.0" y="465.4" class="m" font-size="2.96" style="fill:#222" text-anchor="start" textLength="32.0" lengthAdjust="spacingAndGlyphs">-Response points</text>
<path d="M316.0 443.6V471.6" stroke="#333" stroke-width="0.5" fill="none"/>
<path d="M314.7 443.6H316.0" stroke="#333" stroke-width="0.5"/>
<text x="313.9" y="444.6" class="m" font-size="2.96" style="fill:#222" text-anchor="end">75</text>
<path d="M314.7 452.9H316.0" stroke="#333" stroke-width="0.5"/>
<text x="313.9" y="453.9" class="m" font-size="2.96" style="fill:#222" text-anchor="end">50</text>
<path d="M314.7 462.3H316.0" stroke="#333" stroke-width="0.5"/>
<text x="313.9" y="463.2" class="m" font-size="2.96" style="fill:#222" text-anchor="end">25</text>
<path d="M314.7 471.6H316.0" stroke="#333" stroke-width="0.5"/>
<text x="313.9" y="472.6" class="m" font-size="2.96" style="fill:#222" text-anchor="end">0</text>
<text x="305.2" y="444.3" class="m" font-size="2.96" style="fill:#222" text-anchor="start">P</text>
<text x="305.2" y="448.9" class="m" font-size="2.96" style="fill:#222" text-anchor="start">L</text>
<text x="305.2" y="453.6" class="m" font-size="2.96" style="fill:#222" text-anchor="start">A</text>
<text x="305.2" y="458.2" class="m" font-size="2.96" style="fill:#222" text-anchor="start">N</text>
<text x="305.2" y="465.9" class="m" font-size="2.96" style="fill:#222" text-anchor="start">c</text>
<text x="305.2" y="470.6" class="m" font-size="2.96" style="fill:#222" text-anchor="start">m</text>
<circle cx="323.7" cy="466.1" r="2.96" fill="none" stroke="#5a4a6a" stroke-width="0.45"/>
<circle cx="323.7" cy="471.0" r="2.96" fill="none" stroke="#5a4a6a" stroke-width="0.45"/>
<path d="M323.7 464.1V473.0" stroke="#d04070" stroke-width="0.5"/>
<path d="M322.9 480.1V517.2H397.3" stroke="#333" stroke-width="0.5" fill="none"/>
<path d="M322.9 480.1H397.3" stroke="#444" stroke-width="0.5"/>
<text x="323.6" y="483.1" class="m" font-size="2.96" style="fill:#444" text-anchor="start" textLength="46.0" lengthAdjust="spacingAndGlyphs">E = 3100000 kPa  PR = 0.35</text>
<text x="320.9" y="481.1" class="m" font-size="2.96" style="fill:#222" text-anchor="end">0</text>
<path d="M322.9 488.6H397.3" stroke="#444" stroke-width="0.5"/>
<text x="323.6" y="491.5" class="m" font-size="2.96" style="fill:#444" text-anchor="start" textLength="46.0" lengthAdjust="spacingAndGlyphs">E = 1300000 kPa  PR = 0.35</text>
<text x="320.9" y="489.6" class="m" font-size="2.96" style="fill:#222" text-anchor="end">18</text>
<path d="M322.9 497.6H397.3" stroke="#444" stroke-width="0.5"/>
<text x="323.6" y="500.5" class="m" font-size="2.96" style="fill:#444" text-anchor="start" textLength="46.0" lengthAdjust="spacingAndGlyphs">E = 1800000 kPa  PR = 0.35</text>
<text x="320.9" y="498.6" class="m" font-size="2.96" style="fill:#222" text-anchor="end">39</text>
<path d="M322.9 505.3H397.3" stroke="#444" stroke-width="0.5"/>
<text x="323.6" y="508.2" class="m" font-size="2.96" style="fill:#444" text-anchor="start" textLength="41.6" lengthAdjust="spacingAndGlyphs">E = 71000 kPa  PR = 0.4</text>
<text x="320.9" y="506.3" class="m" font-size="2.96" style="fill:#222" text-anchor="end">57</text>
<text x="309.9" y="481.7" class="m" font-size="2.96" style="fill:#222" text-anchor="start">D</text>
<text x="309.9" y="486.3" class="m" font-size="2.96" style="fill:#222" text-anchor="start">E</text>
<text x="309.9" y="491.0" class="m" font-size="2.96" style="fill:#222" text-anchor="start">P</text>
<text x="309.9" y="495.6" class="m" font-size="2.96" style="fill:#222" text-anchor="start">T</text>
<text x="309.9" y="500.3" class="m" font-size="2.96" style="fill:#222" text-anchor="start">H</text>
<text x="309.9" y="508.2" class="m" font-size="2.96" style="fill:#222" text-anchor="start">c</text>
<text x="309.9" y="512.7" class="m" font-size="2.96" style="fill:#222" text-anchor="start">m</text>
<text x="339.1" y="517.0" class="m" font-size="2.96" style="fill:#2030d0" text-decoration="underline" textLength="16.1" lengthAdjust="spacingAndGlyphs">SUBGRADE</text>
<path d="M339.1 517.7h16.1" stroke="#2030d0" stroke-width="0.35"/>
<text x="322.9" y="523.0" class="m" font-size="2.96" style="fill:#222" text-anchor="middle">0</text>
<text x="338.7" y="523.0" class="m" font-size="2.96" style="fill:#222" text-anchor="middle">50</text>
<text x="353.6" y="523.0" class="m" font-size="2.96" style="fill:#222" text-anchor="middle">100</text>
<text x="368.4" y="523.0" class="m" font-size="2.96" style="fill:#222" text-anchor="middle">150</text>
<text x="383.3" y="523.0" class="m" font-size="2.96" style="fill:#222" text-anchor="middle">200</text>
<text x="398.2" y="523.0" class="m" font-size="2.96" style="fill:#222" text-anchor="middle">250</text>
<text x="336.6" y="528.4" class="m" font-size="2.96" style="fill:#222" text-anchor="start" textLength="47.1" lengthAdjust="spacingAndGlyphs">DISTANCE IN CENTIMETERS</text>
</svg></body></html>
